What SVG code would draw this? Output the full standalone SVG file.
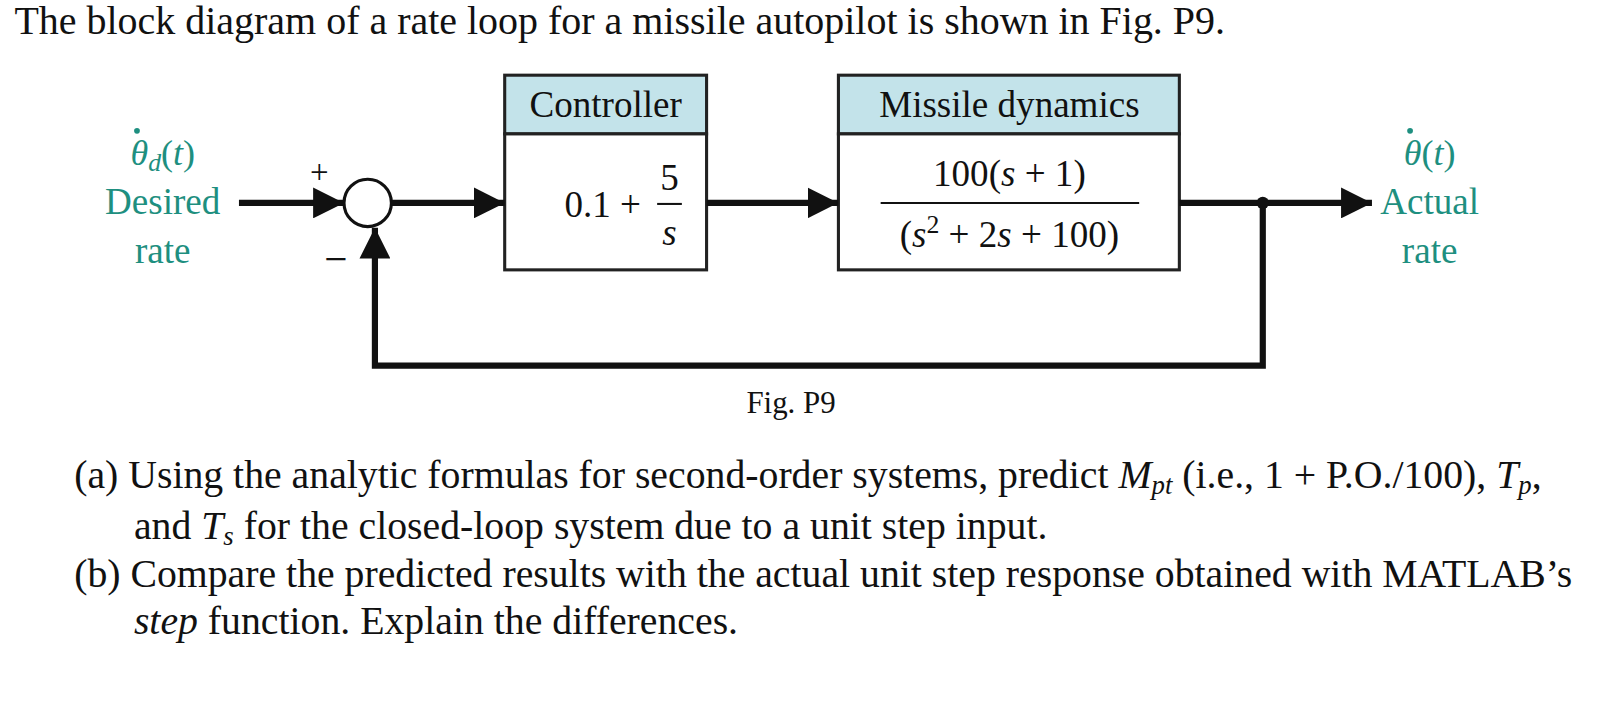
<svg xmlns="http://www.w3.org/2000/svg" width="1616" height="702" viewBox="0 0 1616 702">
<style>
.t{font-family:"Liberation Serif",serif;fill:#111}
.g{font-family:"Liberation Serif",serif;fill:#1e8f80}
.ln{stroke:#111;stroke-width:6;fill:none}
.bx{stroke:#222;stroke-width:3}
</style>
<defs><marker id="a" markerWidth="5" markerHeight="5" refX="5" refY="2.5" orient="auto" markerUnits="strokeWidth"><path d="M0,0L5,2.5L0,5z" fill="#111"/></marker></defs>
<rect width="1616" height="702" fill="#fff"/>
<g transform="scale(1.03)">
<text class="t" x="14" y="33" font-size="38.8">The block diagram of a rate loop for a missile autopilot is shown in Fig. P9.</text>
<g id="input"><text class="g" x="158" y="160" font-size="35" text-anchor="middle"><tspan font-style="italic">θ</tspan><tspan font-style="italic" font-size="25" dy="6">d</tspan><tspan dy="-6">(</tspan><tspan font-style="italic">t</tspan>)</text><circle cx="133" cy="127" r="2.8" fill="#1e8f80"/>
<text class="g" x="158" y="208" font-size="36" text-anchor="middle">Desired</text><text class="g" x="158" y="255" font-size="36" text-anchor="middle">rate</text></g>
<g id="sum"><circle cx="357" cy="197" r="23" fill="#fff" stroke="#111" stroke-width="3"/><text class="t" x="310" y="178" font-size="32" text-anchor="middle">+</text><text class="t" x="326" y="265" font-size="40" text-anchor="middle">−</text></g>
<g id="controller"><rect class="bx" x="490" y="73" width="196" height="57" fill="#c3e3ea"/><rect class="bx" x="490" y="130" width="196" height="132" fill="#fff"/>
<text class="t" x="588" y="114" font-size="36" text-anchor="middle">Controller</text>
<text class="t" x="548" y="211" font-size="36">0.1 +</text><text class="t" x="650" y="184" font-size="36" text-anchor="middle">5</text><line x1="638" y1="198" x2="662" y2="198" stroke="#111" stroke-width="2"/><text class="t" x="650" y="238" font-size="36" font-style="italic" text-anchor="middle">s</text></g>
<g id="missile"><rect class="bx" x="814" y="73" width="331" height="57" fill="#c3e3ea"/><rect class="bx" x="814" y="130" width="331" height="132" fill="#fff"/>
<text class="t" x="980" y="114" font-size="36" text-anchor="middle">Missile dynamics</text>
<text class="t" x="980" y="181" font-size="36" text-anchor="middle">100(<tspan font-style="italic">s</tspan> + 1)</text><line x1="855" y1="197" x2="1106" y2="197" stroke="#111" stroke-width="2"/>
<text class="t" x="980" y="240" font-size="36" text-anchor="middle">(<tspan font-style="italic">s</tspan><tspan font-size="25" dy="-14">2</tspan><tspan dy="14"> + 2</tspan><tspan font-style="italic">s</tspan> + 100)</text></g>
<g id="output"><text class="g" x="1388" y="160" font-size="35" text-anchor="middle"><tspan font-style="italic">θ</tspan>(<tspan font-style="italic">t</tspan>)</text><circle cx="1369" cy="127" r="2.8" fill="#1e8f80"/>
<text class="g" x="1388" y="208" font-size="36" text-anchor="middle">Actual</text><text class="g" x="1388" y="255" font-size="36" text-anchor="middle">rate</text></g>
<g id="connectors">
<line class="ln" x1="232" y1="197" x2="334" y2="197" marker-end="url(#a)"/>
<line class="ln" x1="380" y1="197" x2="490" y2="197" marker-end="url(#a)"/>
<line class="ln" x1="686" y1="197" x2="814" y2="197" marker-end="url(#a)"/>
<line class="ln" x1="1145" y1="197" x2="1332" y2="197" marker-end="url(#a)"/>
<polyline class="ln" points="1226,197 1226,355 364,355 364,221" marker-end="url(#a)"/>
<circle cx="1226" cy="197" r="6" fill="#111"/>
</g>
<text class="t" x="768" y="401" font-size="30" text-anchor="middle">Fig. P9</text>
<g class="t" font-size="38.6">
<text x="72" y="474">(a) Using the analytic formulas for second-order systems, predict <tspan font-style="italic">M</tspan><tspan font-style="italic" font-size="26" dy="6">pt</tspan><tspan dy="-6"> (i.e., 1 + P.O./100), </tspan><tspan font-style="italic">T</tspan><tspan font-style="italic" font-size="26" dy="6">p</tspan><tspan dy="-6">,</tspan></text>
<text x="130" y="523">and <tspan font-style="italic">T</tspan><tspan font-style="italic" font-size="26" dy="6">s</tspan><tspan dy="-6"> for the closed-loop system due to a unit step input.</tspan></text>
<text x="72" y="570">(b) Compare the predicted results with the actual unit step response obtained with MATLAB’s</text>
<text x="130" y="616"><tspan font-style="italic">step</tspan> function. Explain the differences.</text>
</g>
</g>
</svg>
